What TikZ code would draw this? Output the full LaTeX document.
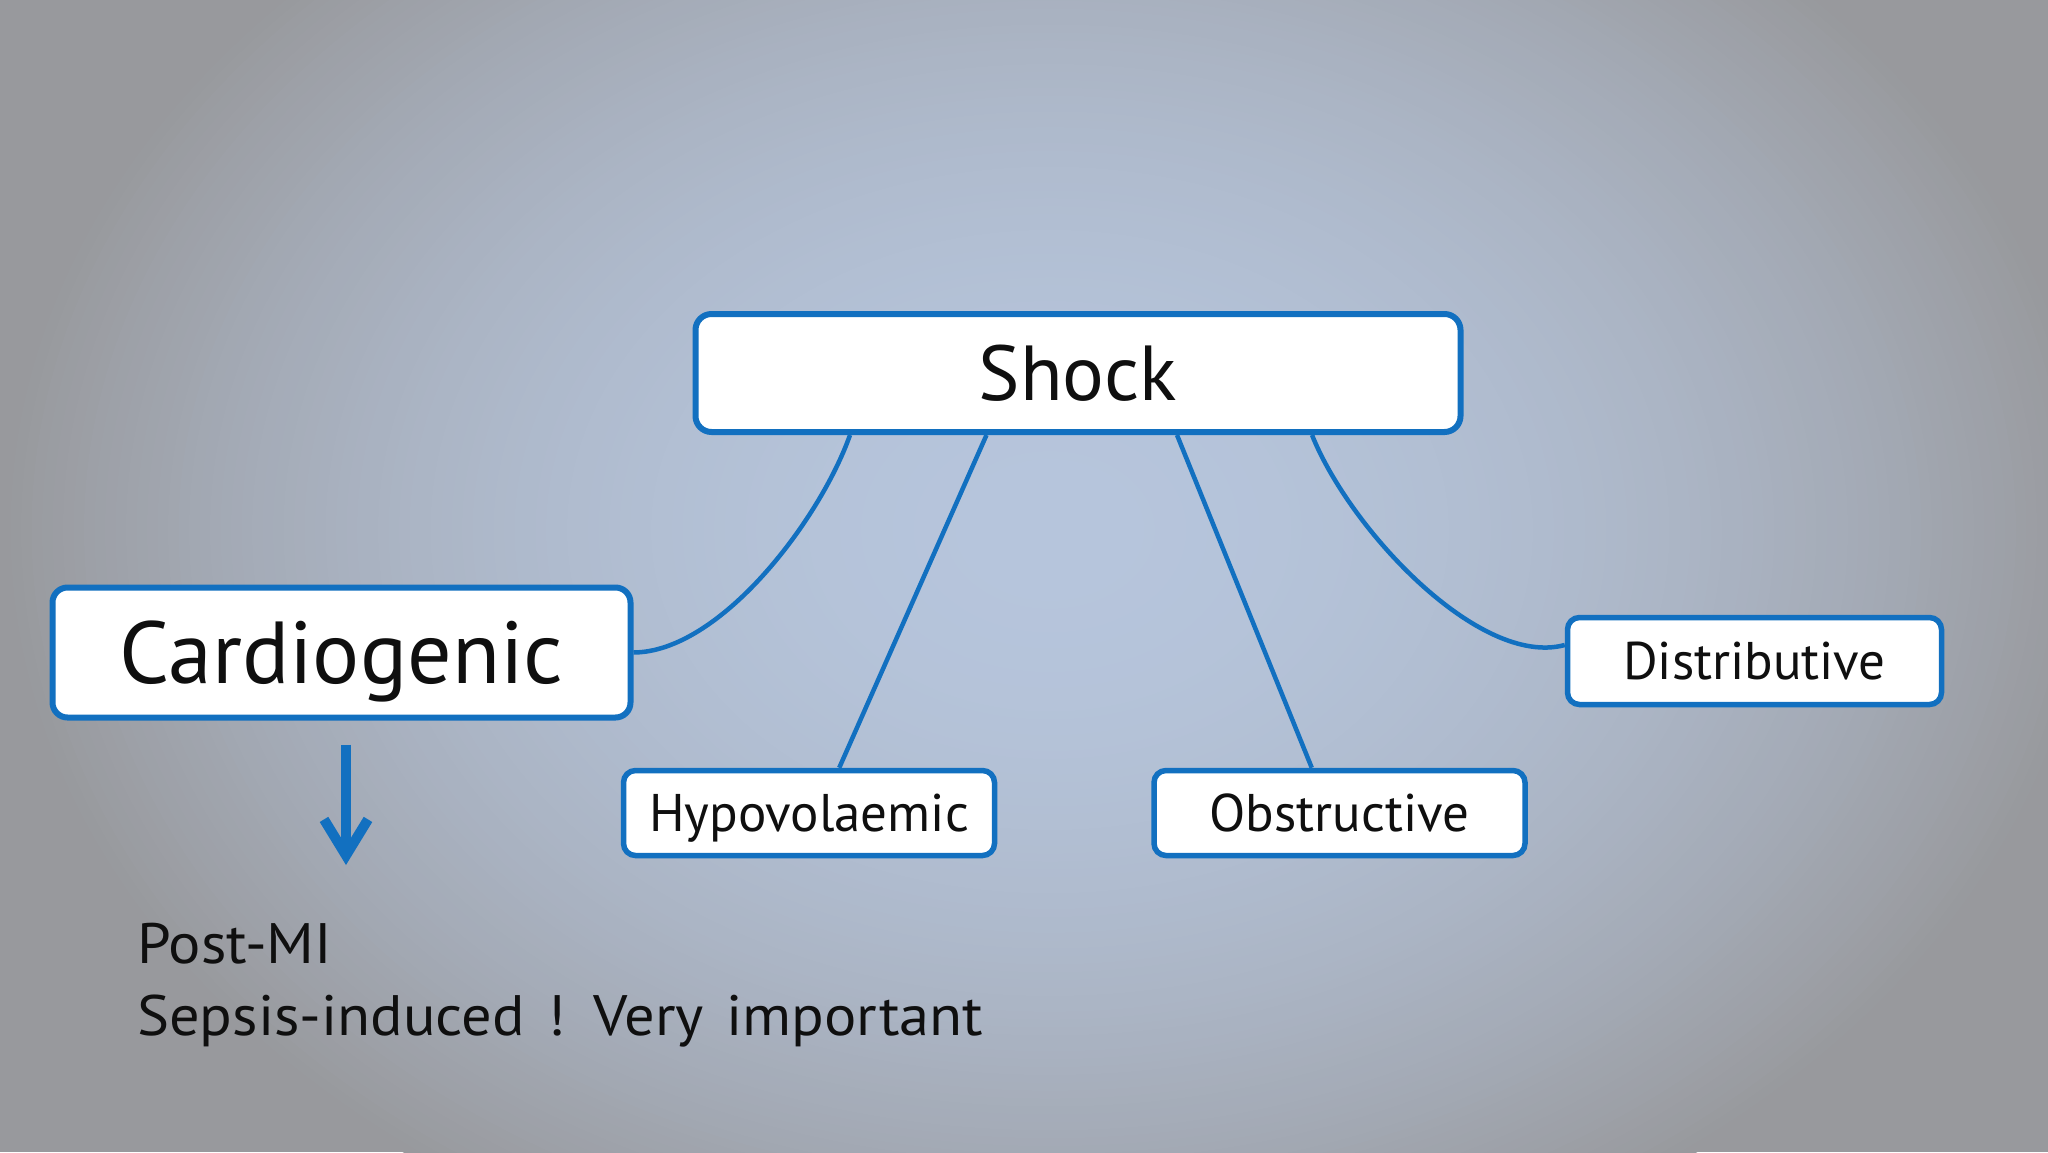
\documentclass[tikz,border=0pt]{standalone}
\usepackage{fontspec}
\setmainfont{PT Sans}
\newfontfamily\notefont{PT Sans}[FakeStretch=1.06,WordSpace=1.4]
\usetikzlibrary{arrows.meta,calc}
\definecolor{bgin}{RGB}{182,197,220}
\definecolor{bgout}{RGB}{152,153,157}
\definecolor{boxblue}{RGB}{18,112,192}
\definecolor{ink}{RGB}{15,15,15}
\begin{document}
\begin{tikzpicture}[x=1pt,y=-1pt,
  box/.style={draw=boxblue, fill=white, inner sep=0pt, text=ink, text depth=0pt},
  bigbox/.style={box, line width=6pt, rounded corners=16pt},
  smallbox/.style={box, line width=5.5pt, rounded corners=12pt,
     minimum width=371pt, minimum height=85pt, text height=37pt,
     font=\fontsize{53}{60}\selectfont},
  link/.style={draw=boxblue, line width=4.5pt},
  notetext/.style={anchor=base west, inner sep=0pt, text=ink, font=\notefont\fontsize{57}{66}\selectfont}]
\useasboundingbox (0,0) rectangle (2048,1152);
\begin{scope}
  \clip (0,0) rectangle (2048,1152);
  \fill[bgout] (0,0) rectangle (2048,1152);
  \foreach \i in {100,99,...,1} {
    \pgfmathsetmacro\rr{\i/100}
    \pgfmathsetmacro\pp{100*(1-\rr*\rr)}
    \fill[bgin!\pp!bgout] (1050,530) ellipse [x radius=1050*\rr, y radius=790*\rr];
  }
\end{scope}

\node[bigbox, minimum width=765pt, minimum height=118pt, text height=55pt,
      font=\fontsize{78}{90}\selectfont] (shock) at (1078,373) {Shock};
\node[bigbox, minimum width=578pt, minimum height=130pt, text height=62pt, rounded corners=15pt,
      font=\fontsize{88}{100}\selectfont] (cardio) at (341.5,652.5) {Cardiogenic};
\node[smallbox] (hypo) at (809,813) {Hypovolaemic};
\node[smallbox] (obst) at (1339.5,813) {Obstructive};
\node[smallbox, minimum width=374pt, minimum height=87pt] (dist) at (1754.5,661) {Distributive};

\draw[link] ($(shock.south west)+(157.5,0)$) .. controls (820,520) and (720,652) .. (cardio.east);
\draw[link] ($(shock.south west)+(294,0)$) -- ($(hypo.north west)+(218.5,0)$);
\draw[link] ($(shock.south west)+(484.5,0)$) -- ($(obst.north west)+(160.5,0)$);
\draw[link] ($(shock.south west)+(619.5,0)$) .. controls (1350,530) and (1480,668) .. ($(dist.west)+(0,-16)$);

\coordinate (arrowend) at (346,865);
\draw[draw=boxblue, line width=10pt,
      -{Straight Barb[sharp, length=36pt, width=44pt, line width=10pt]}]
  ($(cardio.south)+(4.5,24)$) -- (arrowend);

\node[notetext] (postmi) at (137,963) {Post-MI};
\node[notetext] (sepsis) at (137,1035) {Sepsis-induced ! Very important};
\end{tikzpicture}
\end{document}
